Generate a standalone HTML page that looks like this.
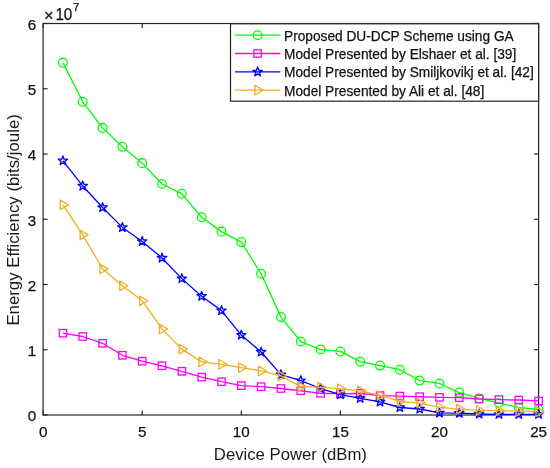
<!DOCTYPE html>
<html><head><meta charset="utf-8"><style>
html,body{margin:0;padding:0;background:#fff;}
svg{display:block;}
text{font-family:"Liberation Sans",Arial,sans-serif;fill:#111;stroke:#111;stroke-width:0.25px;}
</style></head><body>
<svg width="550" height="468" viewBox="0 0 550 468">
<rect width="550" height="468" fill="#fff"/>
<rect x="43.1" y="23.5" width="495.5" height="391.5" fill="none" stroke="#262626" stroke-width="1.2"/>
<line x1="43.10" y1="415.0" x2="43.10" y2="410.5" stroke="#262626" stroke-width="1.2"/>
<line x1="43.10" y1="23.5" x2="43.10" y2="28.0" stroke="#262626" stroke-width="1.2"/>
<line x1="142.20" y1="415.0" x2="142.20" y2="410.5" stroke="#262626" stroke-width="1.2"/>
<line x1="142.20" y1="23.5" x2="142.20" y2="28.0" stroke="#262626" stroke-width="1.2"/>
<line x1="241.30" y1="415.0" x2="241.30" y2="410.5" stroke="#262626" stroke-width="1.2"/>
<line x1="241.30" y1="23.5" x2="241.30" y2="28.0" stroke="#262626" stroke-width="1.2"/>
<line x1="340.40" y1="415.0" x2="340.40" y2="410.5" stroke="#262626" stroke-width="1.2"/>
<line x1="340.40" y1="23.5" x2="340.40" y2="28.0" stroke="#262626" stroke-width="1.2"/>
<line x1="439.50" y1="415.0" x2="439.50" y2="410.5" stroke="#262626" stroke-width="1.2"/>
<line x1="439.50" y1="23.5" x2="439.50" y2="28.0" stroke="#262626" stroke-width="1.2"/>
<line x1="538.60" y1="415.0" x2="538.60" y2="410.5" stroke="#262626" stroke-width="1.2"/>
<line x1="538.60" y1="23.5" x2="538.60" y2="28.0" stroke="#262626" stroke-width="1.2"/>
<line x1="43.1" y1="415.00" x2="47.6" y2="415.00" stroke="#262626" stroke-width="1.2"/>
<line x1="538.6" y1="415.00" x2="534.1" y2="415.00" stroke="#262626" stroke-width="1.2"/>
<line x1="43.1" y1="349.75" x2="47.6" y2="349.75" stroke="#262626" stroke-width="1.2"/>
<line x1="538.6" y1="349.75" x2="534.1" y2="349.75" stroke="#262626" stroke-width="1.2"/>
<line x1="43.1" y1="284.50" x2="47.6" y2="284.50" stroke="#262626" stroke-width="1.2"/>
<line x1="538.6" y1="284.50" x2="534.1" y2="284.50" stroke="#262626" stroke-width="1.2"/>
<line x1="43.1" y1="219.25" x2="47.6" y2="219.25" stroke="#262626" stroke-width="1.2"/>
<line x1="538.6" y1="219.25" x2="534.1" y2="219.25" stroke="#262626" stroke-width="1.2"/>
<line x1="43.1" y1="154.00" x2="47.6" y2="154.00" stroke="#262626" stroke-width="1.2"/>
<line x1="538.6" y1="154.00" x2="534.1" y2="154.00" stroke="#262626" stroke-width="1.2"/>
<line x1="43.1" y1="88.75" x2="47.6" y2="88.75" stroke="#262626" stroke-width="1.2"/>
<line x1="538.6" y1="88.75" x2="534.1" y2="88.75" stroke="#262626" stroke-width="1.2"/>
<line x1="43.1" y1="23.50" x2="47.6" y2="23.50" stroke="#262626" stroke-width="1.2"/>
<line x1="538.6" y1="23.50" x2="534.1" y2="23.50" stroke="#262626" stroke-width="1.2"/>
<polyline points="62.92,62.65 82.74,101.80 102.56,127.90 122.38,146.82 142.20,163.14 162.02,184.01 181.84,193.80 201.66,217.29 221.48,231.65 241.30,242.09 261.12,273.80 280.94,317.12 300.76,341.53 320.58,349.55 340.40,351.45 360.22,361.69 380.04,365.61 399.86,369.72 419.68,380.61 439.50,383.48 459.32,392.62 479.14,398.43 498.96,402.99 518.78,407.63 538.60,409.39" fill="none" stroke="#00ff00" stroke-width="1.3" stroke-linejoin="round"/>
<circle cx="62.92" cy="62.65" r="4.4" fill="none" stroke="#00ff00" stroke-width="1.3"/>
<circle cx="82.74" cy="101.80" r="4.4" fill="none" stroke="#00ff00" stroke-width="1.3"/>
<circle cx="102.56" cy="127.90" r="4.4" fill="none" stroke="#00ff00" stroke-width="1.3"/>
<circle cx="122.38" cy="146.82" r="4.4" fill="none" stroke="#00ff00" stroke-width="1.3"/>
<circle cx="142.20" cy="163.14" r="4.4" fill="none" stroke="#00ff00" stroke-width="1.3"/>
<circle cx="162.02" cy="184.01" r="4.4" fill="none" stroke="#00ff00" stroke-width="1.3"/>
<circle cx="181.84" cy="193.80" r="4.4" fill="none" stroke="#00ff00" stroke-width="1.3"/>
<circle cx="201.66" cy="217.29" r="4.4" fill="none" stroke="#00ff00" stroke-width="1.3"/>
<circle cx="221.48" cy="231.65" r="4.4" fill="none" stroke="#00ff00" stroke-width="1.3"/>
<circle cx="241.30" cy="242.09" r="4.4" fill="none" stroke="#00ff00" stroke-width="1.3"/>
<circle cx="261.12" cy="273.80" r="4.4" fill="none" stroke="#00ff00" stroke-width="1.3"/>
<circle cx="280.94" cy="317.12" r="4.4" fill="none" stroke="#00ff00" stroke-width="1.3"/>
<circle cx="300.76" cy="341.53" r="4.4" fill="none" stroke="#00ff00" stroke-width="1.3"/>
<circle cx="320.58" cy="349.55" r="4.4" fill="none" stroke="#00ff00" stroke-width="1.3"/>
<circle cx="340.40" cy="351.45" r="4.4" fill="none" stroke="#00ff00" stroke-width="1.3"/>
<circle cx="360.22" cy="361.69" r="4.4" fill="none" stroke="#00ff00" stroke-width="1.3"/>
<circle cx="380.04" cy="365.61" r="4.4" fill="none" stroke="#00ff00" stroke-width="1.3"/>
<circle cx="399.86" cy="369.72" r="4.4" fill="none" stroke="#00ff00" stroke-width="1.3"/>
<circle cx="419.68" cy="380.61" r="4.4" fill="none" stroke="#00ff00" stroke-width="1.3"/>
<circle cx="439.50" cy="383.48" r="4.4" fill="none" stroke="#00ff00" stroke-width="1.3"/>
<circle cx="459.32" cy="392.62" r="4.4" fill="none" stroke="#00ff00" stroke-width="1.3"/>
<circle cx="479.14" cy="398.43" r="4.4" fill="none" stroke="#00ff00" stroke-width="1.3"/>
<circle cx="498.96" cy="402.99" r="4.4" fill="none" stroke="#00ff00" stroke-width="1.3"/>
<circle cx="518.78" cy="407.63" r="4.4" fill="none" stroke="#00ff00" stroke-width="1.3"/>
<circle cx="538.60" cy="409.39" r="4.4" fill="none" stroke="#00ff00" stroke-width="1.3"/>
<polyline points="62.92,333.18 82.74,336.50 102.56,343.29 122.38,355.30 142.20,361.17 162.02,365.80 181.84,371.28 201.66,377.15 221.48,381.72 241.30,385.64 261.12,386.68 280.94,388.51 300.76,390.73 320.58,393.27 340.40,393.92 360.22,393.27 380.04,395.56 399.86,396.08 419.68,396.73 439.50,397.38 459.32,397.71 479.14,399.01 498.96,399.60 518.78,399.99 538.60,400.97" fill="none" stroke="#ff00ff" stroke-width="1.3" stroke-linejoin="round"/>
<rect x="59.22" y="329.48" width="7.40" height="7.40" fill="none" stroke="#ff00ff" stroke-width="1.3"/>
<rect x="79.04" y="332.80" width="7.40" height="7.40" fill="none" stroke="#ff00ff" stroke-width="1.3"/>
<rect x="98.86" y="339.59" width="7.40" height="7.40" fill="none" stroke="#ff00ff" stroke-width="1.3"/>
<rect x="118.68" y="351.60" width="7.40" height="7.40" fill="none" stroke="#ff00ff" stroke-width="1.3"/>
<rect x="138.50" y="357.47" width="7.40" height="7.40" fill="none" stroke="#ff00ff" stroke-width="1.3"/>
<rect x="158.32" y="362.10" width="7.40" height="7.40" fill="none" stroke="#ff00ff" stroke-width="1.3"/>
<rect x="178.14" y="367.58" width="7.40" height="7.40" fill="none" stroke="#ff00ff" stroke-width="1.3"/>
<rect x="197.96" y="373.45" width="7.40" height="7.40" fill="none" stroke="#ff00ff" stroke-width="1.3"/>
<rect x="217.78" y="378.02" width="7.40" height="7.40" fill="none" stroke="#ff00ff" stroke-width="1.3"/>
<rect x="237.60" y="381.94" width="7.40" height="7.40" fill="none" stroke="#ff00ff" stroke-width="1.3"/>
<rect x="257.42" y="382.98" width="7.40" height="7.40" fill="none" stroke="#ff00ff" stroke-width="1.3"/>
<rect x="277.24" y="384.81" width="7.40" height="7.40" fill="none" stroke="#ff00ff" stroke-width="1.3"/>
<rect x="297.06" y="387.03" width="7.40" height="7.40" fill="none" stroke="#ff00ff" stroke-width="1.3"/>
<rect x="316.88" y="389.57" width="7.40" height="7.40" fill="none" stroke="#ff00ff" stroke-width="1.3"/>
<rect x="336.70" y="390.22" width="7.40" height="7.40" fill="none" stroke="#ff00ff" stroke-width="1.3"/>
<rect x="356.52" y="389.57" width="7.40" height="7.40" fill="none" stroke="#ff00ff" stroke-width="1.3"/>
<rect x="376.34" y="391.86" width="7.40" height="7.40" fill="none" stroke="#ff00ff" stroke-width="1.3"/>
<rect x="396.16" y="392.38" width="7.40" height="7.40" fill="none" stroke="#ff00ff" stroke-width="1.3"/>
<rect x="415.98" y="393.03" width="7.40" height="7.40" fill="none" stroke="#ff00ff" stroke-width="1.3"/>
<rect x="435.80" y="393.68" width="7.40" height="7.40" fill="none" stroke="#ff00ff" stroke-width="1.3"/>
<rect x="455.62" y="394.01" width="7.40" height="7.40" fill="none" stroke="#ff00ff" stroke-width="1.3"/>
<rect x="475.44" y="395.31" width="7.40" height="7.40" fill="none" stroke="#ff00ff" stroke-width="1.3"/>
<rect x="495.26" y="395.90" width="7.40" height="7.40" fill="none" stroke="#ff00ff" stroke-width="1.3"/>
<rect x="515.08" y="396.29" width="7.40" height="7.40" fill="none" stroke="#ff00ff" stroke-width="1.3"/>
<rect x="534.90" y="397.27" width="7.40" height="7.40" fill="none" stroke="#ff00ff" stroke-width="1.3"/>
<polyline points="62.92,160.79 82.74,185.97 102.56,207.50 122.38,227.41 142.20,241.44 162.02,258.01 181.84,278.63 201.66,296.25 221.48,310.60 241.30,335.07 261.12,352.03 280.94,374.68 300.76,380.61 320.58,388.51 340.40,394.58 360.22,398.36 380.04,401.95 399.86,407.50 419.68,409.00 439.50,412.91 459.32,413.17 479.14,414.02 498.96,414.35 518.78,414.35 538.60,414.35" fill="none" stroke="#0000ff" stroke-width="1.3" stroke-linejoin="round"/>
<polygon points="62.92,155.89 64.07,159.21 67.58,159.27 64.77,161.39 65.80,164.75 62.92,162.74 60.04,164.75 61.07,161.39 58.26,159.27 61.77,159.21" fill="none" stroke="#0000ff" stroke-width="1.3" stroke-linejoin="round"/>
<polygon points="82.74,181.07 83.89,184.39 87.40,184.46 84.59,186.58 85.62,189.94 82.74,187.92 79.86,189.94 80.89,186.58 78.08,184.46 81.59,184.39" fill="none" stroke="#0000ff" stroke-width="1.3" stroke-linejoin="round"/>
<polygon points="102.56,202.60 103.71,205.93 107.22,205.99 104.41,208.11 105.44,211.47 102.56,209.45 99.68,211.47 100.71,208.11 97.90,205.99 101.41,205.93" fill="none" stroke="#0000ff" stroke-width="1.3" stroke-linejoin="round"/>
<polygon points="122.38,222.51 123.53,225.83 127.04,225.89 124.23,228.01 125.26,231.37 122.38,229.36 119.50,231.37 120.53,228.01 117.72,225.89 121.23,225.83" fill="none" stroke="#0000ff" stroke-width="1.3" stroke-linejoin="round"/>
<polygon points="142.20,236.53 143.35,239.86 146.86,239.92 144.05,242.04 145.08,245.40 142.20,243.38 139.32,245.40 140.35,242.04 137.54,239.92 141.05,239.86" fill="none" stroke="#0000ff" stroke-width="1.3" stroke-linejoin="round"/>
<polygon points="162.02,253.11 163.17,256.43 166.68,256.49 163.87,258.61 164.90,261.97 162.02,259.96 159.14,261.97 160.17,258.61 157.36,256.49 160.87,256.43" fill="none" stroke="#0000ff" stroke-width="1.3" stroke-linejoin="round"/>
<polygon points="181.84,273.73 182.99,277.05 186.50,277.11 183.69,279.23 184.72,282.59 181.84,280.58 178.96,282.59 179.99,279.23 177.18,277.11 180.69,277.05" fill="none" stroke="#0000ff" stroke-width="1.3" stroke-linejoin="round"/>
<polygon points="201.66,291.35 202.81,294.67 206.32,294.73 203.51,296.85 204.54,300.21 201.66,298.19 198.78,300.21 199.81,296.85 197.00,294.73 200.51,294.67" fill="none" stroke="#0000ff" stroke-width="1.3" stroke-linejoin="round"/>
<polygon points="221.48,305.70 222.63,309.02 226.14,309.09 223.33,311.20 224.36,314.56 221.48,312.55 218.60,314.56 219.63,311.20 216.82,309.09 220.33,309.02" fill="none" stroke="#0000ff" stroke-width="1.3" stroke-linejoin="round"/>
<polygon points="241.30,330.17 242.45,333.49 245.96,333.55 243.15,335.67 244.18,339.03 241.30,337.02 238.42,339.03 239.45,335.67 236.64,333.55 240.15,333.49" fill="none" stroke="#0000ff" stroke-width="1.3" stroke-linejoin="round"/>
<polygon points="261.12,347.13 262.27,350.46 265.78,350.52 262.97,352.64 264.00,356.00 261.12,353.98 258.24,356.00 259.27,352.64 256.46,350.52 259.97,350.46" fill="none" stroke="#0000ff" stroke-width="1.3" stroke-linejoin="round"/>
<polygon points="280.94,369.78 282.09,373.10 285.60,373.16 282.79,375.28 283.82,378.64 280.94,376.63 278.06,378.64 279.09,375.28 276.28,373.16 279.79,373.10" fill="none" stroke="#0000ff" stroke-width="1.3" stroke-linejoin="round"/>
<polygon points="300.76,375.71 301.91,379.04 305.42,379.10 302.61,381.22 303.64,384.58 300.76,382.56 297.88,384.58 298.91,381.22 296.10,379.10 299.61,379.04" fill="none" stroke="#0000ff" stroke-width="1.3" stroke-linejoin="round"/>
<polygon points="320.58,383.61 321.73,386.93 325.24,386.99 322.43,389.11 323.46,392.47 320.58,390.46 317.70,392.47 318.73,389.11 315.92,386.99 319.43,386.93" fill="none" stroke="#0000ff" stroke-width="1.3" stroke-linejoin="round"/>
<polygon points="340.40,389.68 341.55,393.00 345.06,393.06 342.25,395.18 343.28,398.54 340.40,396.53 337.52,398.54 338.55,395.18 335.74,393.06 339.25,393.00" fill="none" stroke="#0000ff" stroke-width="1.3" stroke-linejoin="round"/>
<polygon points="360.22,393.46 361.37,396.78 364.88,396.85 362.07,398.96 363.10,402.33 360.22,400.31 357.34,402.33 358.37,398.96 355.56,396.85 359.07,396.78" fill="none" stroke="#0000ff" stroke-width="1.3" stroke-linejoin="round"/>
<polygon points="380.04,397.05 381.19,400.37 384.70,400.44 381.89,402.55 382.92,405.91 380.04,403.90 377.16,405.91 378.19,402.55 375.38,400.44 378.89,400.37" fill="none" stroke="#0000ff" stroke-width="1.3" stroke-linejoin="round"/>
<polygon points="399.86,402.60 401.01,405.92 404.52,405.98 401.71,408.10 402.74,411.46 399.86,409.45 396.98,411.46 398.01,408.10 395.20,405.98 398.71,405.92" fill="none" stroke="#0000ff" stroke-width="1.3" stroke-linejoin="round"/>
<polygon points="419.68,404.10 420.83,407.42 424.34,407.48 421.53,409.60 422.56,412.96 419.68,410.95 416.80,412.96 417.83,409.60 415.02,407.48 418.53,407.42" fill="none" stroke="#0000ff" stroke-width="1.3" stroke-linejoin="round"/>
<polygon points="439.50,408.01 440.65,411.33 444.16,411.40 441.35,413.51 442.38,416.88 439.50,414.86 436.62,416.88 437.65,413.51 434.84,411.40 438.35,411.33" fill="none" stroke="#0000ff" stroke-width="1.3" stroke-linejoin="round"/>
<polygon points="459.32,408.27 460.47,411.60 463.98,411.66 461.17,413.78 462.20,417.14 459.32,415.12 456.44,417.14 457.47,413.78 454.66,411.66 458.17,411.60" fill="none" stroke="#0000ff" stroke-width="1.3" stroke-linejoin="round"/>
<polygon points="479.14,409.12 480.29,412.44 483.80,412.51 480.99,414.62 482.02,417.99 479.14,415.97 476.26,417.99 477.29,414.62 474.48,412.51 477.99,412.44" fill="none" stroke="#0000ff" stroke-width="1.3" stroke-linejoin="round"/>
<polygon points="498.96,409.45 500.11,412.77 503.62,412.83 500.81,414.95 501.84,418.31 498.96,416.30 496.08,418.31 497.11,414.95 494.30,412.83 497.81,412.77" fill="none" stroke="#0000ff" stroke-width="1.3" stroke-linejoin="round"/>
<polygon points="518.78,409.45 519.93,412.77 523.44,412.83 520.63,414.95 521.66,418.31 518.78,416.30 515.90,418.31 516.93,414.95 514.12,412.83 517.63,412.77" fill="none" stroke="#0000ff" stroke-width="1.3" stroke-linejoin="round"/>
<polygon points="538.60,409.45 539.75,412.77 543.26,412.83 540.45,414.95 541.48,418.31 538.60,416.30 535.72,418.31 536.75,414.95 533.94,412.83 537.45,412.77" fill="none" stroke="#0000ff" stroke-width="1.3" stroke-linejoin="round"/>
<polyline points="62.92,204.89 82.74,234.91 102.56,268.84 122.38,285.81 142.20,300.81 162.02,328.87 181.84,349.10 201.66,361.89 221.48,364.30 241.30,367.63 261.12,370.96 280.94,375.85 300.76,386.68 320.58,387.20 340.40,388.90 360.22,390.86 380.04,395.43 399.86,401.30 419.68,403.12 439.50,407.30 459.32,409.13 479.14,410.30 498.96,410.69 518.78,411.08 538.60,411.61" fill="none" stroke="#edb120" stroke-width="1.3" stroke-linejoin="round"/>
<polygon points="60.27,200.04 68.42,204.89 60.27,209.74" fill="none" stroke="#edb120" stroke-width="1.3" stroke-linejoin="round"/>
<polygon points="80.09,230.06 88.24,234.91 80.09,239.76" fill="none" stroke="#edb120" stroke-width="1.3" stroke-linejoin="round"/>
<polygon points="99.91,263.99 108.06,268.84 99.91,273.69" fill="none" stroke="#edb120" stroke-width="1.3" stroke-linejoin="round"/>
<polygon points="119.73,280.95 127.88,285.81 119.73,290.66" fill="none" stroke="#edb120" stroke-width="1.3" stroke-linejoin="round"/>
<polygon points="139.55,295.96 147.70,300.81 139.55,305.66" fill="none" stroke="#edb120" stroke-width="1.3" stroke-linejoin="round"/>
<polygon points="159.37,324.02 167.52,328.87 159.37,333.72" fill="none" stroke="#edb120" stroke-width="1.3" stroke-linejoin="round"/>
<polygon points="179.19,344.25 187.34,349.10 179.19,353.95" fill="none" stroke="#edb120" stroke-width="1.3" stroke-linejoin="round"/>
<polygon points="199.01,357.04 207.16,361.89 199.01,366.74" fill="none" stroke="#edb120" stroke-width="1.3" stroke-linejoin="round"/>
<polygon points="218.83,359.45 226.98,364.30 218.83,369.15" fill="none" stroke="#edb120" stroke-width="1.3" stroke-linejoin="round"/>
<polygon points="238.65,362.78 246.80,367.63 238.65,372.48" fill="none" stroke="#edb120" stroke-width="1.3" stroke-linejoin="round"/>
<polygon points="258.47,366.11 266.62,370.96 258.47,375.81" fill="none" stroke="#edb120" stroke-width="1.3" stroke-linejoin="round"/>
<polygon points="278.29,371.00 286.44,375.85 278.29,380.70" fill="none" stroke="#edb120" stroke-width="1.3" stroke-linejoin="round"/>
<polygon points="298.11,381.83 306.26,386.68 298.11,391.53" fill="none" stroke="#edb120" stroke-width="1.3" stroke-linejoin="round"/>
<polygon points="317.93,382.35 326.08,387.20 317.93,392.05" fill="none" stroke="#edb120" stroke-width="1.3" stroke-linejoin="round"/>
<polygon points="337.75,384.05 345.90,388.90 337.75,393.75" fill="none" stroke="#edb120" stroke-width="1.3" stroke-linejoin="round"/>
<polygon points="357.57,386.01 365.72,390.86 357.57,395.71" fill="none" stroke="#edb120" stroke-width="1.3" stroke-linejoin="round"/>
<polygon points="377.39,390.57 385.54,395.43 377.39,400.28" fill="none" stroke="#edb120" stroke-width="1.3" stroke-linejoin="round"/>
<polygon points="397.21,396.45 405.36,401.30 397.21,406.15" fill="none" stroke="#edb120" stroke-width="1.3" stroke-linejoin="round"/>
<polygon points="417.03,398.27 425.18,403.12 417.03,407.97" fill="none" stroke="#edb120" stroke-width="1.3" stroke-linejoin="round"/>
<polygon points="436.85,402.45 445.00,407.30 436.85,412.15" fill="none" stroke="#edb120" stroke-width="1.3" stroke-linejoin="round"/>
<polygon points="456.67,404.28 464.82,409.13 456.67,413.98" fill="none" stroke="#edb120" stroke-width="1.3" stroke-linejoin="round"/>
<polygon points="476.49,405.45 484.64,410.30 476.49,415.15" fill="none" stroke="#edb120" stroke-width="1.3" stroke-linejoin="round"/>
<polygon points="496.31,405.84 504.46,410.69 496.31,415.54" fill="none" stroke="#edb120" stroke-width="1.3" stroke-linejoin="round"/>
<polygon points="516.13,406.23 524.28,411.08 516.13,415.94" fill="none" stroke="#edb120" stroke-width="1.3" stroke-linejoin="round"/>
<polygon points="535.95,406.76 544.10,411.61 535.95,416.46" fill="none" stroke="#edb120" stroke-width="1.3" stroke-linejoin="round"/>
<rect x="230.5" y="23.8" width="308.1" height="77.4" fill="#fff" stroke="#262626" stroke-width="1.2"/>
<line x1="235" y1="35.2" x2="280.4" y2="35.2" stroke="#00ff00" stroke-width="1.3"/>
<circle cx="257.60" cy="35.20" r="4.4" fill="none" stroke="#00ff00" stroke-width="1.3"/>
<text x="284.0" y="40.70" font-size="14.6" textLength="229.70" lengthAdjust="spacingAndGlyphs">Proposed DU-DCP Scheme using GA</text>
<line x1="235" y1="53.5" x2="280.4" y2="53.5" stroke="#ff00ff" stroke-width="1.3"/>
<rect x="253.90" y="49.80" width="7.40" height="7.40" fill="none" stroke="#ff00ff" stroke-width="1.3"/>
<text x="284.0" y="59.00" font-size="14.6" textLength="232.27" lengthAdjust="spacingAndGlyphs">Model Presented by Elshaer et al. [39]</text>
<line x1="235" y1="71.9" x2="280.4" y2="71.9" stroke="#0000ff" stroke-width="1.3"/>
<polygon points="257.60,67.00 258.75,70.32 262.26,70.39 259.45,72.50 260.48,75.86 257.60,73.85 254.72,75.86 255.75,72.50 252.94,70.39 256.45,70.32" fill="none" stroke="#0000ff" stroke-width="1.3" stroke-linejoin="round"/>
<text x="284.0" y="77.40" font-size="14.6" textLength="249.76" lengthAdjust="spacingAndGlyphs">Model Presented by Smiljkovikj et al. [42]</text>
<line x1="235" y1="90.1" x2="280.4" y2="90.1" stroke="#edb120" stroke-width="1.3"/>
<polygon points="254.95,85.25 263.10,90.10 254.95,94.95" fill="none" stroke="#edb120" stroke-width="1.3" stroke-linejoin="round"/>
<text x="284.0" y="95.60" font-size="14.6" textLength="200.29" lengthAdjust="spacingAndGlyphs">Model Presented by Ali et al. [48]</text>
<text x="43.10" y="437.2" text-anchor="middle" font-size="15.5" textLength="8.45" lengthAdjust="spacingAndGlyphs">0</text>
<text x="142.20" y="437.2" text-anchor="middle" font-size="15.5" textLength="8.45" lengthAdjust="spacingAndGlyphs">5</text>
<text x="241.30" y="437.2" text-anchor="middle" font-size="15.5" textLength="16.91" lengthAdjust="spacingAndGlyphs">10</text>
<text x="340.40" y="437.2" text-anchor="middle" font-size="15.5" textLength="16.91" lengthAdjust="spacingAndGlyphs">15</text>
<text x="439.50" y="437.2" text-anchor="middle" font-size="15.5" textLength="16.91" lengthAdjust="spacingAndGlyphs">20</text>
<text x="538.60" y="437.2" text-anchor="middle" font-size="15.5" textLength="16.91" lengthAdjust="spacingAndGlyphs">25</text>
<text x="36.3" y="421.40" text-anchor="end" font-size="15.5" textLength="8.45" lengthAdjust="spacingAndGlyphs">0</text>
<text x="36.3" y="356.15" text-anchor="end" font-size="15.5" textLength="8.45" lengthAdjust="spacingAndGlyphs">1</text>
<text x="36.3" y="290.90" text-anchor="end" font-size="15.5" textLength="8.45" lengthAdjust="spacingAndGlyphs">2</text>
<text x="36.3" y="225.65" text-anchor="end" font-size="15.5" textLength="8.45" lengthAdjust="spacingAndGlyphs">3</text>
<text x="36.3" y="160.40" text-anchor="end" font-size="15.5" textLength="8.45" lengthAdjust="spacingAndGlyphs">4</text>
<text x="36.3" y="95.15" text-anchor="end" font-size="15.5" textLength="8.45" lengthAdjust="spacingAndGlyphs">5</text>
<text x="36.3" y="29.90" text-anchor="end" font-size="15.5" textLength="8.45" lengthAdjust="spacingAndGlyphs">6</text>
<text x="44.1" y="21.2" font-size="16.5">&#215;</text>
<text x="55.4" y="19.6" font-size="16.4" textLength="16.91" lengthAdjust="spacingAndGlyphs">10</text>
<text x="72.9" y="10.9" font-size="11.4">7</text>
<text x="213.86" y="459.7" font-size="16.7" style="stroke:none;fill:#1a1a1a">Device Power (dBm)</text>
<text transform="translate(18.8,219.9) rotate(-90)" text-anchor="middle" font-size="16.8" style="stroke:none;fill:#1a1a1a">Energy Efficiency (bits/joule)</text>
</svg>
</body></html>
